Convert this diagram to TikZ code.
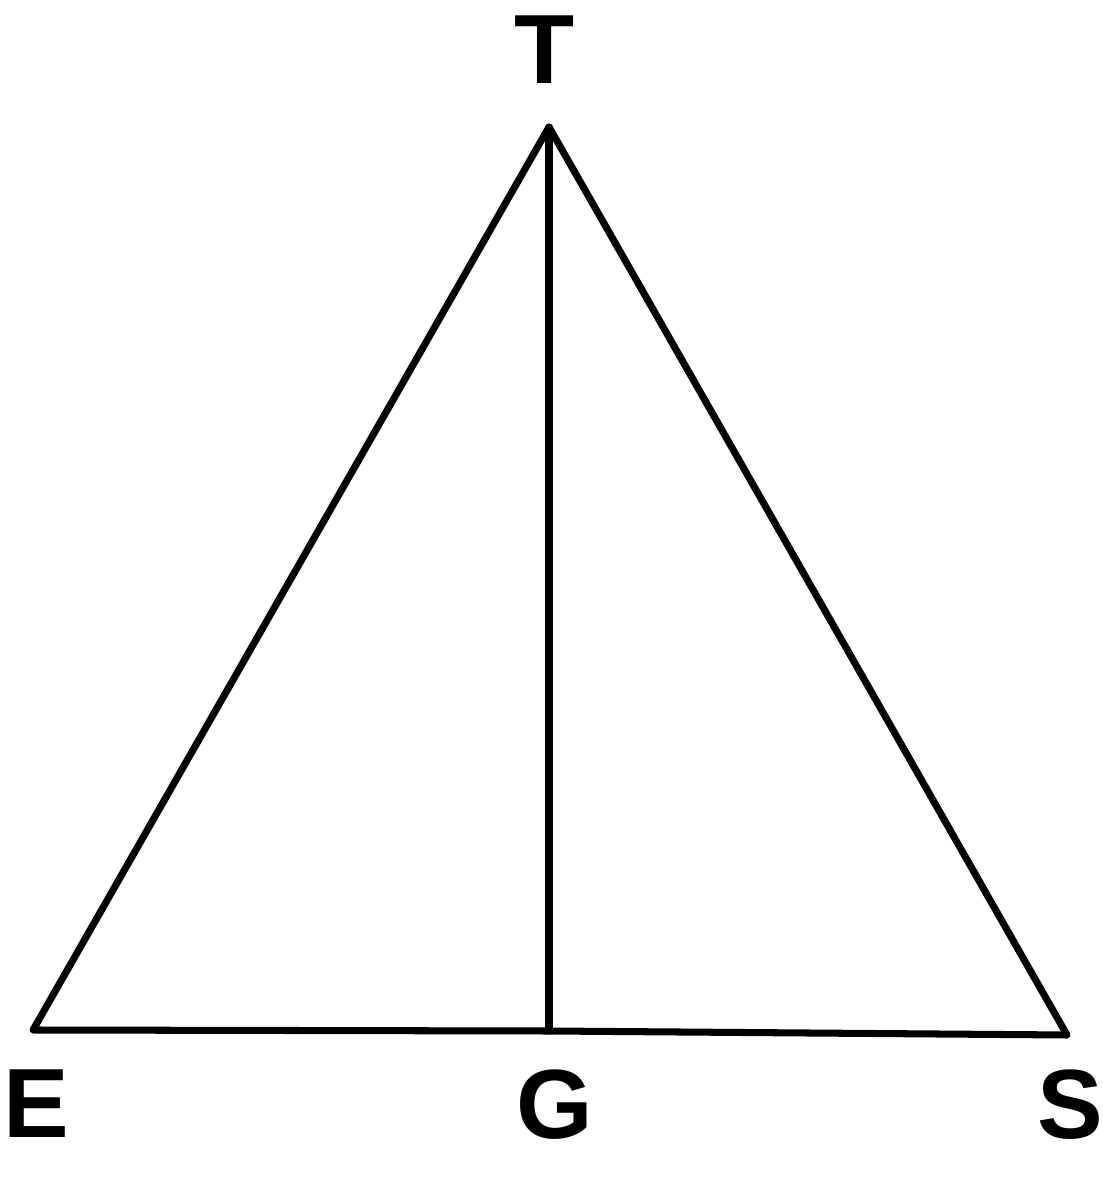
\documentclass[tikz,border=0pt]{standalone}
\usepackage{fontspec}
\setmainfont{Liberation Sans}
\begin{document}
\begin{tikzpicture}
		\useasboundingbox (0,0) rectangle (11.03,11.78);

		\coordinate (T) at (5.49,10.51);
		\coordinate (E) at (0.33,1.48);
		\coordinate (G) at (5.49,1.47);
		\coordinate (S) at (10.67,1.43);

		\begin{scope}[every node/.style={font=\bfseries\fontsize{28}{30}\selectfont, inner sep=0pt}]
			\node (labelT) at (5.45,11.28) {T};
			\node (labelE) at (0.36,0.74) {E};
			\node (labelG) at (5.55,0.73) {G};
			\node (labelS) at (10.70,0.73) {S};
		\end{scope}

		\begin{scope}[line width=2pt, line join=round, line cap=round]
			\draw (E) -- (T) -- (S) -- (G) -- cycle;
			\draw (T) -- (G);
		\end{scope}

	\end{tikzpicture}
\end{document}
